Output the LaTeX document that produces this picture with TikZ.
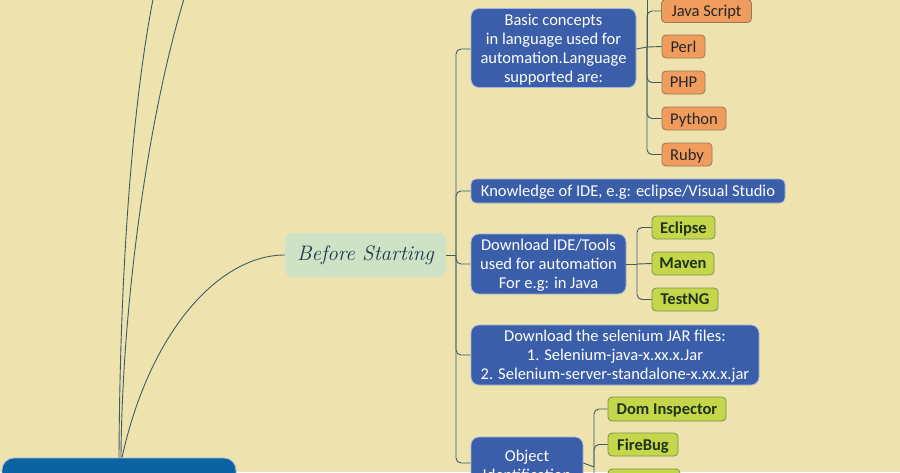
\documentclass[tikz,border=0pt]{standalone}
\usepackage{fontspec}
\setmainfont{Carlito}
\definecolor{bg}{RGB}{238,226,174}
\definecolor{bluefill}{RGB}{58,94,170}
\definecolor{blueedge}{RGB}{160,185,220}
\definecolor{orfill}{RGB}{240,156,92}
\definecolor{oredge}{RGB}{150,120,90}
\definecolor{grfill}{RGB}{197,214,74}
\definecolor{gredge}{RGB}{120,150,80}
\definecolor{grtext}{RGB}{30,52,25}
\definecolor{bsfill}{RGB}{206,226,198}
\definecolor{bstext}{RGB}{30,55,75}
\definecolor{rootfill}{RGB}{11,99,161}
\definecolor{conncol}{RGB}{62,92,102}
\tikzset{
  bluebox/.style={draw=blueedge, line width=0.8pt, fill=bluefill, rounded corners=8pt,
    text=white, align=center, inner sep=0pt, text depth=-1pt, font=\fontsize{16.5}{19}\selectfont},
  orbox/.style={draw=oredge, line width=0.8pt, fill=orfill, rounded corners=4pt,
    text=black!85, align=center, inner sep=0pt, text depth=-1pt, minimum height=23pt, font=\fontsize{16.5}{19}\selectfont},
  grbox/.style={draw=gredge, line width=0.8pt, fill=grfill, rounded corners=4pt,
    text=grtext, align=center, inner sep=0pt, text depth=-1pt, minimum height=23pt, font=\fontsize{16.5}{19}\selectfont\bfseries},
  conn/.style={draw=conncol, line width=0.9pt, rounded corners=5pt},
}
\begin{document}
\begin{tikzpicture}[x=1pt,y=-1pt]
\useasboundingbox (0,0) rectangle (900,472);
\fill[bg] (0,0) rectangle (900,472);
\clip (0,0) rectangle (900,472);

% root and off-picture ends
\node[draw=blueedge, line width=0.8pt, fill=rootfill, rounded corners=12pt, minimum width=234pt, minimum height=62pt, inner sep=0pt] (root) at (119,489) {};
\coordinate (off1) at (157,-20);
\coordinate (off2) at (190,-20);

% Before Starting
\node[fill=bsfill, draw=bsfill!90!white, rounded corners=8pt, minimum width=161pt, minimum height=44pt, inner sep=0pt, text=bstext, font=\fontsize{21}{24}\selectfont\fontspec{Latin Modern Roman}\itshape] (bs) at (365.5,255) {Before Starting};

% level 2 boxes
\node[bluebox, minimum width=165pt, minimum height=79pt] (basic) at (553.5,48) {Basic concepts\\in language used for\\automation.Language\\supported are:};
\node[bluebox, minimum width=314pt, minimum height=24pt, rounded corners=5pt] (know) at (628,191) {Knowledge of IDE, e.g: eclipse/Visual Studio};
\node[bluebox, minimum width=155pt, minimum height=60pt] (dide) at (548.5,264) {Download IDE/Tools\\used for automation\\For e.g: in Java};
\node[bluebox, minimum width=288pt, minimum height=60pt] (sel) at (615,355) {Download the selenium JAR files:\\1. Selenium-java-x.xx.x.Jar\\2. Selenium-server-standalone-x.xx.x.jar};
\node[bluebox, minimum width=112pt, minimum height=56pt] (obj) at (527,465) {Object\\Identification};

% languages
\node[orbox, minimum width=90pt] (js) at (706.5,11) {Java Script};
\node[orbox, minimum width=43pt] (perl) at (683.5,46.5) {Perl};
\node[orbox, minimum width=43pt] (php) at (683.5,82.5) {PHP};
\node[orbox, minimum width=64pt] (py) at (694,118.5) {Python};
\node[orbox, minimum width=50pt] (ruby) at (687,154.5) {Ruby};

% IDE tools
\node[grbox, minimum width=63pt] (ecl) at (683.5,227.5) {Eclipse};
\node[grbox, minimum width=62pt] (mvn) at (683,263.5) {Maven};
\node[grbox, minimum width=66pt] (tng) at (685,299.5) {TestNG};

% object identification tools
\node[grbox, minimum width=118pt, minimum height=24pt] (dom) at (667,409) {Dom Inspector};
\node[grbox, minimum width=70pt] (fb) at (643,444.5) {FireBug};
\node[grbox, minimum width=72pt, minimum height=24pt] (g3) at (644,481) {};

% junction points
\coordinate (t1) at (456,255);
\coordinate (t2) at (647,47);
\coordinate (t2top) at (647,-20);
\coordinate (t3) at (637,264);
\coordinate (t4) at (594,467);

% root curves
\draw[conn] (root.north) .. controls (120,250) and (135,80) .. (off1);
\draw[conn] ([xshift=2pt]root.north) .. controls (122,300) and (150,100) .. (off2);
\draw[conn] ([xshift=3pt]root.north) .. controls (150,330) and (220,255) .. (bs.west);

% trunk
\draw[conn] (bs.east) -- (t1);
\draw[conn] (t1) |- ([yshift=-1pt]basic.west);
\draw[conn] (t1) |- (know.west);
\draw[conn] (t1) |- (dide.west);
\draw[conn] (t1) |- (sel.west);
\draw[conn] (t1) |- ([yshift=2pt]obj.west);

% languages
\draw[conn] ([yshift=-1pt]basic.east) -- (t2);
\draw[conn] (t2) -- (t2top);
\draw[conn] (t2) |- (js.west);
\draw[conn] (t2) |- (php.west);
\draw[conn] (t2) |- (py.west);
\draw[conn] (t2) |- (ruby.west);
\draw[conn] (t2) -- (perl.west);

% IDE tools
\draw[conn] (dide.east) -- (t3);
\draw[conn] (t3) |- (ecl.west);
\draw[conn] (t3) -- (mvn.west);
\draw[conn] (t3) |- (tng.west);

% object tools
\draw[conn] ([yshift=2pt]obj.east) -- (t4);
\draw[conn] (t4) |- (dom.west);
\draw[conn] (t4) |- (fb.west);
\draw[conn] (t4) |- (g3.west);
\end{tikzpicture}
\end{document}
